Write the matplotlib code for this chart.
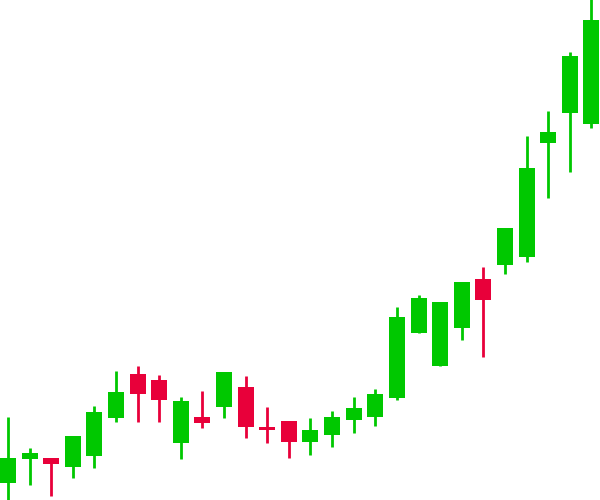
import numpy as np
import matplotlib.pyplot as plt

# OHLC values (arbitrary price units)
opens = [17, 41, 42, 33, 44, 82, 126, 120, 57, 83, 93, 113, 73, 79,
         58, 65, 80, 83, 102, 167, 134, 172, 221, 235, 243, 357, 387, 376]
closes = [42, 47, 36, 64, 88, 108, 106, 100, 99, 77, 128, 73, 70, 58,
          70, 83, 92, 106, 183, 202, 198, 218, 200, 272, 332, 368, 444, 480]
highs = [83, 52, 42, 64, 94, 129, 134, 125, 103, 109, 128, 124, 93, 79,
         82, 89, 103, 111, 193, 205, 198, 218, 233, 272, 364, 389, 448, 510]
lows = [-5, 15, 4, 22, 32, 78, 78, 78, 41, 72, 82, 62, 57, 42,
        45, 53, 67, 74, 100, 167, 134, 160, 143, 226, 238, 302, 328, 372]

up_color = "#00C800"
down_color = "#E8003A"

fig = plt.figure(figsize=(6, 5), dpi=100)
ax = fig.add_axes([0, 0, 1, 1])

x = np.arange(len(opens))
body_w = 0.74
for i in x:
    o, c, h, l = opens[i], closes[i], highs[i], lows[i]
    col = up_color if c >= o else down_color
    ax.vlines(i, l, h, color=col, linewidth=2)
    bottom = min(o, c)
    height = max(abs(c - o), 3)
    ax.bar(i, height, bottom=bottom, width=body_w, color=col, linewidth=0)

ax.set_xlim(-0.37, 27.4)
ax.set_ylim(0, 500)
ax.axis("off")

plt.savefig("out.png", dpi=100, facecolor="white")
